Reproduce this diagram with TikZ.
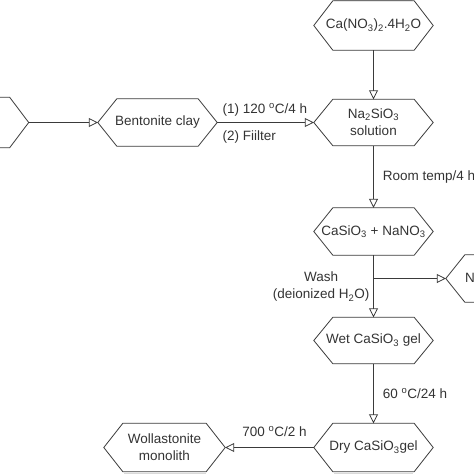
\documentclass[tikz,border=0pt]{standalone}
\usepackage{fontspec}
\setmainfont{Liberation Sans}
\usetikzlibrary{arrows.meta}
\definecolor{ink}{HTML}{333333}
\definecolor{edgegray}{HTML}{3A3A3A}
\newcommand{\degC}{\textsuperscript{o}C}
\begin{document}
\begin{tikzpicture}[x=1pt,y=-1pt,
  hexline/.style={draw=edgegray, line width=0.8pt, line join=miter},
  hexa/.style={shape=rectangle, inner sep=0pt, minimum width=119pt, minimum height=47pt,
    align=center, text=ink, font=\fontsize{13.5}{17}\selectfont,
    append after command={\pgfextra{\draw[hexline] (\tikzlastnode.west)
      -- ([xshift=19pt]\tikzlastnode.north west) -- ([xshift=-19pt]\tikzlastnode.north east)
      -- (\tikzlastnode.east) -- ([xshift=-19pt]\tikzlastnode.south east)
      -- ([xshift=19pt]\tikzlastnode.south west) -- cycle;}}},
  flow/.style={draw=edgegray, line width=0.8pt,
    -{Triangle[open, length=9pt, width=9pt, line width=0.8pt]}},
  lab/.style={text=ink, font=\fontsize{13.5}{17}\selectfont, inner sep=0pt}
]
\useasboundingbox (0,0) rectangle (474,474);
\clip (0,0) rectangle (474,474);

% faint gray bands at the picture edges
\fill[gray!30] (334,0) rectangle (412,1.2);
\fill[gray!30] (124,472.5) rectangle (206,474);
\fill[gray!30] (334,472.5) rectangle (413,474);

\node[hexa, minimum height=49pt] (ca) at (373.5,25.5) {Ca(NO\textsubscript{3})\textsubscript{2}.4H\textsubscript{2}O};
\node[hexa, minimum height=46pt] (na) at (373.5,122.5) {Na\textsubscript{2}SiO\textsubscript{3}\\solution};
\node[hexa] (bent) at (157.5,122.5) {Bentonite clay};
\node[hexa, minimum height=50pt] (src) at (-31,122.5) {};
\node[hexa] (mix) at (373.5,231.5) {CaSiO\textsubscript{3} + NaNO\textsubscript{3}};
\node[hexa, text width=81pt, align=left] (nano) at (505.5,278.5) {NaNO\textsubscript{3}};
\node[hexa, minimum height=46pt] (wet) at (373.5,340.5) {Wet CaSiO\textsubscript{3} gel};
\node[hexa, minimum height=48pt] (dry) at (373.5,447.5) {Dry CaSiO\textsubscript{3}gel};
\node[hexa, minimum width=121pt, minimum height=48pt] (woll) at (164.5,447.5) {Wollastonite\\monolith};

\draw[flow] (ca.south) -- (na.north);
\draw[flow] (src.east) -- (bent.west);
\draw[flow] (bent.east)
  -- node[lab, pos=0, anchor=west, xshift=5pt, yshift=13pt] (l1) {(1) 120 \degC/4 h}
     node[lab, pos=0, anchor=west, xshift=5pt, yshift=-14.5pt] (l2) {(2) Fiilter}
  (na.west);
\draw[flow] (na.south) -- node[lab, anchor=west, xshift=9pt] (l3) {Room temp/4 h} (mix.north);
\draw[flow] (mix.south) -- (wet.north);
\coordinate (br) at (mix.south |- nano.west);
\draw[flow] (br) -- (nano.west);
\node[lab, align=center, anchor=east] (wash) at ([xshift=-4pt, yshift=-8.5pt]br)
  {Wash\\(deionized H\textsubscript{2}O)};
\draw[flow] (wet.south) -- node[lab, anchor=west, xshift=9pt] (l4) {60 \degC/24 h} (dry.north);
\draw[flow] (dry.west) -- node[lab, xshift=5pt, yshift=16pt] (l5) {700 \degC/2 h} (woll.east);
\end{tikzpicture}
\end{document}
